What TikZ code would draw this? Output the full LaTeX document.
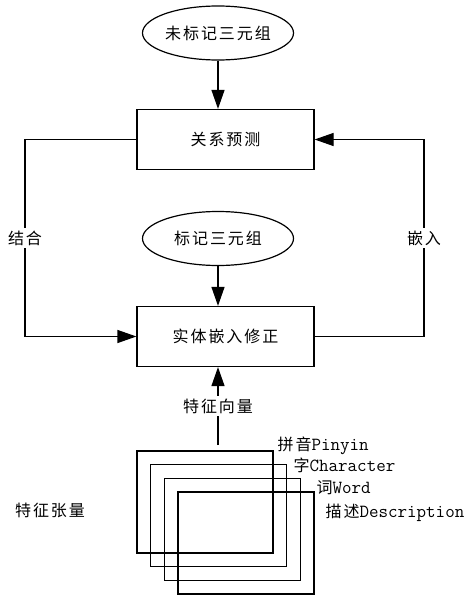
\documentclass[tikz,border=0pt]{standalone}
\usepackage{fontspec}
\setmainfont{Noto Sans CJK SC}[LetterSpace=12]
\newcommand\latn[1]{{\ttfamily\fontsize{18.5pt}{18pt}\selectfont #1}}
\usetikzlibrary{arrows.meta,shapes.geometric,positioning}

\begin{document}
\begin{tikzpicture}[x=1pt,y=-1pt,line width=1.2pt,font=\fontsize{16pt}{18pt}\selectfont,
  blk/.style={draw,rectangle,minimum width=177pt,minimum height=60pt,inner sep=0pt},
  oval/.style={draw,ellipse,minimum width=151pt,minimum height=54pt,inner sep=0pt},
  arr/.style={-{Triangle[length=19pt,width=13pt]}},
  lbl/.style={fill=white,inner sep=3pt},
  tag/.style={anchor=base west,inner sep=0pt},
  sheet/.style={draw,line width=1.5pt}]
\useasboundingbox (0,0) rectangle (474,602);
\node[oval] (unl) at (218,33) {未标记三元组};
\node[blk] (pred) at (225.5,139.5) {关系预测};
\node[oval] (lab) at (218,238.5) {标记三元组};
\node[blk] (corr) at (225.5,336.5) {实体嵌入修正};
\coordinate (lft) at (25,0);
\coordinate (rgt) at (424,0);
\coordinate (fv) at (218,445);
\draw[arr] (unl.south) -- (unl.south |- pred.north);
\draw[arr] (lab.south) -- (lab.south |- corr.north);
\draw[arr] (pred.west) -- (pred.west -| lft) -- node[lbl] {结合} (corr.west -| lft) -- (corr.west);
\draw[arr] (corr.east) -- (corr.east -| rgt) -- node[lbl] {嵌入} (pred.east -| rgt) -- (pred.east);
\draw[arr] (fv) -- node[lbl] {特征向量} (fv |- corr.south);
% feature tensor
\foreach \i in {0,...,3}
  \draw[sheet] (137+13.7*\i,451+13.7*\i) rectangle ++(136,102);
\node[tag] (py) at (277,450) {拼音\latn{Pinyin}};
\node[tag] (ch) at (293,471) {字\latn{Character}};
\node[tag] (wd) at (316,493) {词\latn{Word}};
\node[tag] (ds) at (325,517) {描述\latn{Description}};
\node (ten) at (50,510) {特征张量};
\end{tikzpicture}
\end{document}
